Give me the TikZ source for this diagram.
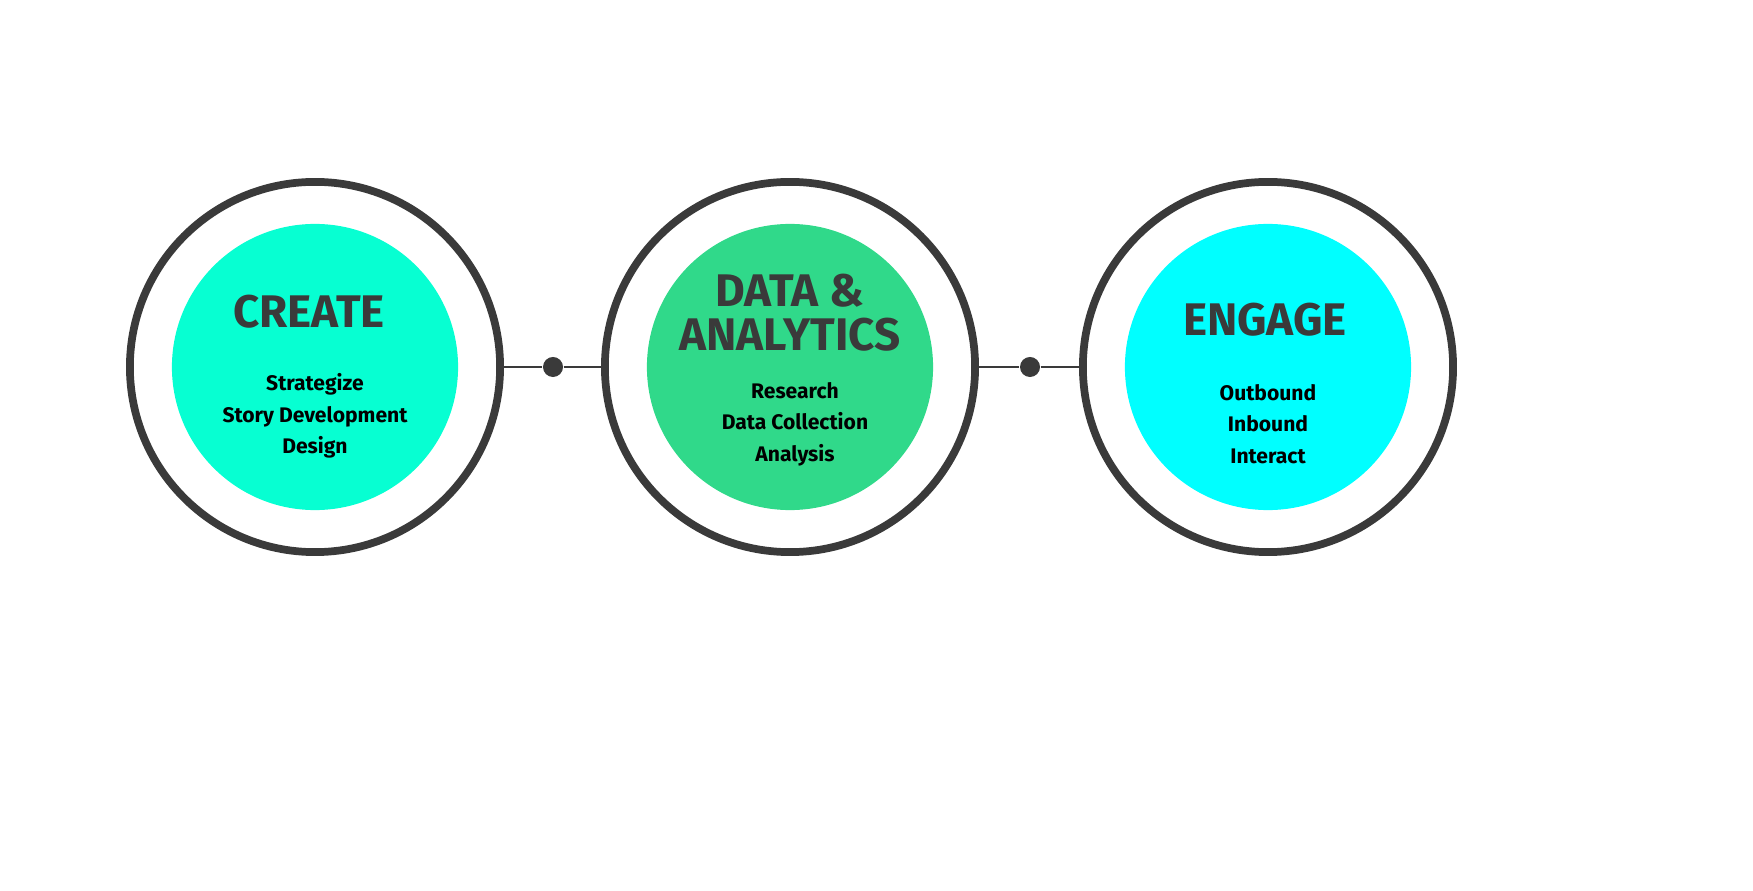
\documentclass[tikz,border=0pt]{standalone}
\usepackage{fontspec}
\setmainfont{Fira Sans}
\usetikzlibrary{positioning}
\definecolor{ringgray}{HTML}{3A3A3A}
\definecolor{createcol}{HTML}{07FFD2}
\definecolor{datacol}{HTML}{30D98A}
\definecolor{engagecol}{HTML}{00FFFF}
\begin{document}
\begin{tikzpicture}[x=0.01cm,y=-0.01cm,
    ring/.style={circle, draw=ringgray, line width=2.2pt, minimum size=3.70cm, inner sep=0pt},
    core/.style={circle, minimum size=2.86cm, inner sep=0pt},
    title/.style={font=\bfseries\fontsize{13}{13}\selectfont, text=ringgray, align=center},
    items/.style={font=\bfseries\fontsize{6}{9}\selectfont, align=center},
    dot/.style={circle, fill=ringgray, minimum size=0.20cm, inner sep=0pt},
    link/.style={draw=ringgray, line width=0.5pt}
]
    \useasboundingbox (0,0) rectangle (1753,891);
    % Rings and cores
    \node [ring] (create) at (315,367) {};
    \node [ring] (data) at (790,367) {};
    \node [ring] (engage) at (1268,367) {};
    \node [core, fill=createcol] at (create) {};
    \node [core, fill=datacol] at (data) {};
    \node [core, fill=engagecol] at (engage) {};

    % Texts
    \node [title] at (309,312) {CREATE};
    \node [items] at (315,416) {Strategize\\Story Development\\Design};
    \node [title, font=\bfseries\fontsize{13}{12.5}\selectfont] at (790,313) {DATA \&\\ANALYTICS};
    \node [items] at (795,424) {Research\\Data Collection\\Analysis};
    \node [title] at (1265,320) {ENGAGE};
    \node [items] at (1268,424) {Outbound\\Inbound\\Interact};

    % Connections
    \node [dot] (dota) at (553,367) {};
    \node [dot] (dotb) at (1030,367) {};
    \draw [link] (create) -- (dota) -- (data);
    \draw [link] (data) -- (dotb) -- (engage);
\end{tikzpicture}
\end{document}
